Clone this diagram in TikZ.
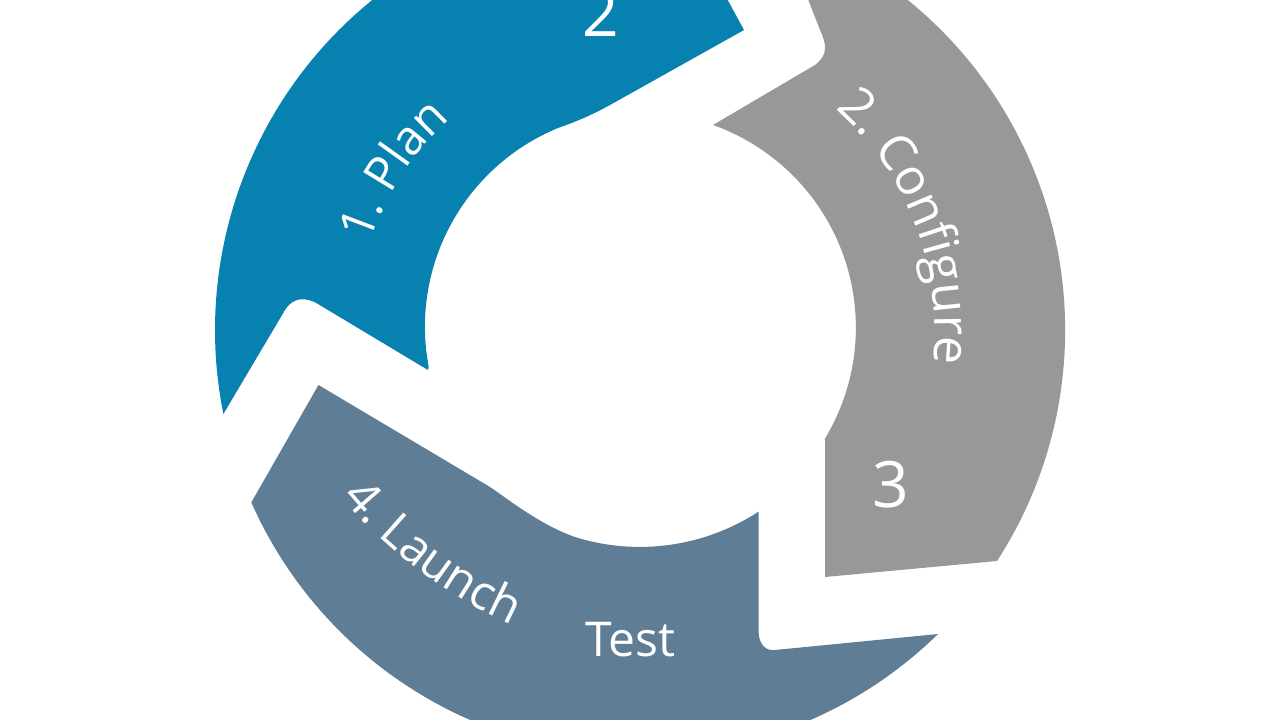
\documentclass[tikz,border=0pt]{standalone}
\usepackage{fontspec}
\setmainfont{Open Sans}
\usetikzlibrary{decorations.text}
\definecolor{planblue}{HTML}{0781AF}
\definecolor{confgray}{HTML}{97989A}
\definecolor{launchslate}{HTML}{5F7D95}
\tikzset{
  seg/.style={draw=none},
  label/.style={text=white,font=\fontsize{48}{52}\selectfont},
  digit/.style={text=white,font=\fontsize{64}{68}\selectfont},
  curved/.style={decorate,decoration={text along path,text align=center,
     text color=white,text={|\fontsize{48}{52}\selectfont|#1}}},
  curvedwide/.style={decorate,decoration={text along path,text align=center,
     text color=white,text={|\fontsize{50}{54}\selectfont|#1}}}
}
\begin{document}
\begin{tikzpicture}[x=1pt,y=-1pt]
\useasboundingbox (0,0) rectangle (1280,720);
\fill[white] (0,0) rectangle (1280,720);
\clip (0,0) rectangle (1280,720);
% blue
\fill[planblue,seg] (223.4,414) arc[start angle=168.6,end angle=275,radius=425]
  -- (744,30) -- (610,105) .. controls (590,116) and (575,122) .. (558,128)
  arc[start angle=247.6,end angle=169.3,radius=215]
  -- (428,370) -- (318,304) .. controls (305,296) and (292,298) .. (285,310) -- cycle;
% gray
\fill[confgray,seg] (997,561) arc[start angle=32.9,end angle=-70.7,radius=425]
  -- (820,30) .. controls (827,45) and (828,55) .. (815,65)
  -- (713,125) arc[start angle=-70.4,end angle=31.2,radius=215]
  -- (825,442) -- (825,577) -- cycle;
% slate
\fill[launchslate,seg] (318.5,385) -- (490,487) .. controls (505,497) and (540,525) .. (575,537)
  arc[start angle=107.4,end angle=56.8,radius=217]
  -- (758.5,630) .. controls (758.5,644) and (765,651) .. (775,650)
  -- (938,634) arc[start angle=45.6,end angle=156.1,radius=425.5] -- cycle;
% labels
\node[digit] (two) at (601,13) {2};
\node[digit] (three) at (891,485) {3};
\node[label] (test) at (630,640) {Test};
\path[curved={1. Plan}] (640,330) ++(197:284) arc[start angle=197,end angle=229,radius=284];
\path[curvedwide={2. Configure}] (640,330) ++(-52:295) arc[start angle=-52,end angle=10,radius=295];
\path[curved={4. Launch}] (338,492) .. controls (370,535) and (440,595) .. (518,628);
\end{tikzpicture}
\end{document}
